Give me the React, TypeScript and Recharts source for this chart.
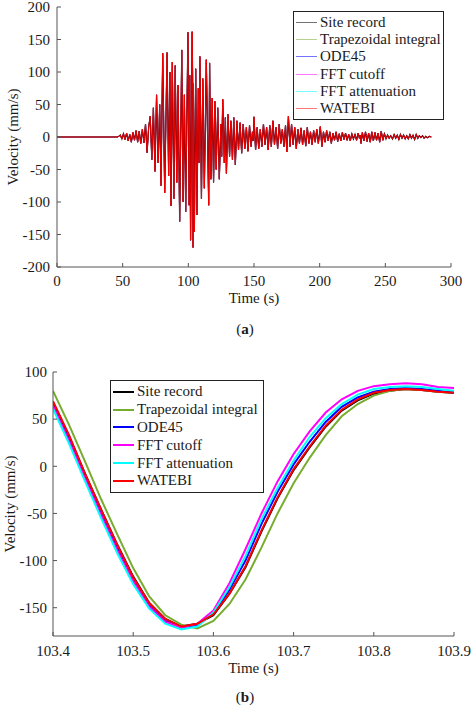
import { LineChart, Line, XAxis, YAxis, Legend, Label } from "recharts";

const FONT = "Liberation Serif";
const AXIS_COLOR = "#555";
const TEXT_COLOR = "#1a1a1a";

// legend entries, in drawing order (last one ends up on top)
const seriesNames = [
  "Site record",
  "Trapezoidal integral",
  "ODE45",
  "FFT cutoff",
  "FFT attenuation",
  "WATEBI",
];
const seriesColors = ["#000000", "#77AC30", "#0000FF", "#FF00FF", "#00FFFF", "#FF0000"];

// (a) full record: [time s, velocity mm/s] at the wave peaks/troughs
const siteRecordFull: [number, number][] = [
  [0, 0], [46, 0], [47, 1], [48.2, 3], [49.4, -3], [50.6, 5], [51.8, -4], [53, 6],
  [54.2, -6], [55.4, 4], [56.6, -8], [57.8, 7], [59, -5], [60.2, 10], [61.4, -8],
  [62.6, 9], [63.8, -10], [65, 12], [66.2, -9], [67.4, 20], [68.6, -24], [69.8, 15],
  [71, 32], [72.2, -35], [73.4, 45], [74.6, -53], [75.8, 65], [77, -40], [78.2, 50],
  [79.2, -75], [80.5, 129], [82, -86], [83.8, 130], [85, -60], [86, 100], [86.8, -106],
  [87.8, 115], [89, -95], [90, 110], [91.2, -70], [92.2, 80], [93.4, -130], [95, 134],
  [96, -100], [97, 65], [98, -115], [99.7, 161], [100.6, -105], [101.1, 95], [101.7, -159],
  [102.9, 162], [103.4, 68], [103.56, -170], [103.84, 82], [104.6, -146], [105.6, 105],
  [106.6, -120], [107.6, 75], [108.2, -40], [108.8, 124], [110, -95], [111, 90],
  [112.2, -79], [113.7, 119], [115.5, -105], [116.2, 114], [117.2, -65], [118.2, 60],
  [119.2, -70], [120.2, 55], [121.2, -50], [122.4, 45], [123.6, -65], [124.8, 20],
  [125.4, -30], [126.2, 58], [127.4, -40], [128.2, 30], [129, -56], [130.2, 35],
  [131.4, -30], [132.4, 25], [133.6, -35], [134.6, 30], [135.8, -43], [137, 25],
  [138.2, -20], [139.4, 22], [140.6, -25], [141.8, 20], [143, -18], [144.2, 15],
  [145.4, -22], [146.6, 18], [147.8, -15], [148.8, 8], [149.4, -6], [150, 31],
  [151.2, -20], [152.4, 15], [153.6, -18], [154.8, 12], [156, -15], [157.2, 20],
  [158.4, -12], [159.6, 15], [160.8, -20], [162, 18], [163.2, -15], [164.4, 25],
  [165.6, -12], [166.8, 15], [168, -18], [169.2, 20], [170.4, -10], [171.6, 12],
  [172.8, -15], [174, 18], [175, -23], [176.2, 32], [177.4, -15], [178.6, 20],
  [179.8, -12], [181, 15], [182.2, -18], [183.4, 12], [184.6, -10], [185.8, 14],
  [187, -12], [188.2, 10], [189.4, -14], [190.6, 15], [191.8, -10], [193, 8],
  [194.2, -12], [195.4, 10], [196.6, -8], [197.8, 12], [199, -10], [200.5, 16],
  [201.7, -15], [202.9, 8], [204.1, -8], [205.3, 10], [206.5, -6], [207.7, 8],
  [208.9, -10], [210.1, 6], [211.3, -5], [212.5, 8], [213.7, -7], [214.9, 5],
  [216.1, -6], [217.3, 7], [218.5, -4], [219.7, 6], [220.9, -5], [222.1, 4],
  [223.3, -6], [224.5, 5], [225.7, -3], [226.9, 4], [228.1, -5], [229.3, 6],
  [230.3, -2], [230.9, 3], [231.5, -10], [232.5, 7], [233.7, -6], [234.9, 8],
  [236.1, -7], [237.3, 6], [238.5, -8], [239.7, 8], [240.9, -6], [242.1, 7],
  [243.3, -5], [244.5, 6], [245.7, -8], [246.9, 9], [248.1, -5], [249.3, 5],
  [250.5, -3], [251.7, 3], [252.9, -2], [254.1, 2], [255.5, -3], [256.7, 4],
  [257.9, -2], [259.1, 3], [260.3, -4], [261.5, 4], [262.7, -2], [263.9, 3],
  [265.1, -3], [266.3, 2], [267.5, -3], [268.7, 4], [269.9, -2], [271.1, 3],
  [272.3, -4], [273.5, 4], [274.7, -2], [275.9, 2], [277.1, -1], [278.3, 2],
  [279.5, -2], [280.7, 1], [282, -1], [283.5, 1], [285, 0],
];

// (b) close-up 103.4 - 103.9 s, step 0.02 s
const zoomTime = [
  103.4, 103.42, 103.44, 103.46, 103.48, 103.5, 103.52, 103.54, 103.56, 103.58,
  103.6, 103.62, 103.64, 103.66, 103.68, 103.7, 103.72, 103.74, 103.76, 103.78,
  103.8, 103.82, 103.84, 103.86, 103.88, 103.9,
];
const siteRecord = [
  68, 32, -8, -46, -83, -117, -145, -162, -170, -167,
  -158, -135, -107, -69, -34, -4, 20, 42, 59, 70,
  77, 80, 82, 81, 79, 78,
];
const trapezoidal = [
  80, 44, 5, -35, -72, -108, -138, -158, -168, -172,
  -164, -146, -120, -86, -50, -18, 9, 33, 53, 66,
  75, 80, 82, 81, 79, 78,
];
const ode45 = [
  64, 28, -12, -51, -87, -121, -148, -164, -171, -168,
  -156, -131, -100, -61, -27, 2, 26, 47, 63, 73,
  79, 82, 83, 82, 80, 78,
];
const fftCutoff = [
  64, 27, -13, -52, -89, -122, -149, -165, -171, -167,
  -153, -124, -88, -50, -16, 13, 37, 57, 71, 80,
  85, 87, 88, 87, 84, 83,
];
const fftAttenuation = [
  61, 24, -16, -55, -92, -125, -151, -167, -173, -170,
  -155, -128, -95, -56, -23, 6, 31, 51, 66, 76,
  82, 84, 85, 84, 82, 80,
];
const watebi = [
  69, 33, -8, -46, -83, -118, -145, -162, -170, -167,
  -157, -135, -106, -68, -33, -3, 21, 43, 60, 71,
  78, 81, 82, 81, 79, 78,
];

const fullTicks = [0, 50, 100, 150, 200, 250, 300];
const fullVelTicks = [-200, -150, -100, -50, 0, 50, 100, 150, 200];
const zoomTicks = [103.4, 103.5, 103.6, 103.7, 103.8, 103.9];
const zoomVelTicks = [-150, -100, -50, 0, 50, 100];

const seriesKeys = ["site", "trap", "ode45", "fftCut", "fftAtt", "watebi"];

const fullData = siteRecordFull.map(([t, v]) => ({ t, v }));
const zoomData = zoomTime.map((t, i) => ({
  t,
  site: siteRecord[i],
  trap: trapezoidal[i],
  ode45: ode45[i],
  fftCut: fftCutoff[i],
  fftAtt: fftAttenuation[i],
  watebi: watebi[i],
}));

const textStyle = { fontFamily: FONT, fontSize: "15px", fill: TEXT_COLOR };

// svg text with the serif face set both as attribute and as style
function SerifText(props: any) {
  const { children, ...rest } = props;
  return (
    <text fontFamily={FONT} fontSize={15} fill={TEXT_COLOR} style={textStyle} {...rest}>
      {children}
    </text>
  );
}

// MATLAB-like inward ticks; labels drawn by hand so the tick can point inside
const bottomTick = (gap: number, fmt: (v: number) => string) => (p: any) => (
  <g>
    <line x1={p.x} x2={p.x} y1={p.y - gap} y2={p.y - gap - 4} stroke={AXIS_COLOR} />
    <SerifText x={p.x} y={p.y} dy="0.71em" textAnchor="middle">
      {fmt(p.payload.value)}
    </SerifText>
  </g>
);
const leftTick = (gap: number) => (p: any) => (
  <g>
    <line x1={p.x + gap} x2={p.x + gap + 4} y1={p.y} y2={p.y} stroke={AXIS_COLOR} />
    <SerifText x={p.x} y={p.y} dy="0.35em" textAnchor="end">
      {p.payload.value}
    </SerifText>
  </g>
);
const topTick = (p: any) => (
  <line x1={p.x} x2={p.x} y1={p.y} y2={p.y + 4} stroke={AXIS_COLOR} />
);
const rightTick = (p: any) => (
  <line x1={p.x} x2={p.x - 4} y1={p.y} y2={p.y} stroke={AXIS_COLOR} />
);

// axis titles: horizontal under the x axis, rotated beside the y axis
const xTitle = (dy: number) => (p: any) => {
  const vb = p.viewBox;
  return (
    <SerifText x={vb.x + vb.width / 2} y={vb.y + dy} textAnchor="middle">
      Time (s)
    </SerifText>
  );
};
const yTitle = (x: number) => (p: any) => {
  const vb = p.viewBox;
  const cy = vb.y + vb.height / 2;
  return (
    <SerifText x={x} y={cy} dy="0.35em" textAnchor="middle" transform={`rotate(-90 ${x} ${cy})`}>
      Velocity (mm/s)
    </SerifText>
  );
};

function LegendBox({
  width,
  rowHeight,
  lineWidth,
  lineOpacity,
}: {
  width: number;
  rowHeight: number;
  lineWidth: number;
  lineOpacity: number;
}) {
  return (
    <div
      style={{
        width,
        boxSizing: "border-box",
        border: "1.2px solid #222",
        background: "#fff",
        padding: "2px 0 2px 0",
        fontFamily: FONT,
        fontSize: 15,
        color: TEXT_COLOR,
      }}
    >
      {seriesNames.map((name, i) => (
        <div key={name} style={{ display: "flex", alignItems: "center", height: rowHeight }}>
          <div
            style={{
              width: 21,
              height: lineWidth,
              marginLeft: 2,
              marginRight: 3,
              background: seriesColors[i],
              opacity: lineOpacity,
            }}
          />
          <span style={{ whiteSpace: "nowrap", lineHeight: 1 }}>{name}</span>
        </div>
      ))}
    </div>
  );
}

function PanelTag({ letter, top }: { letter: string; top: number }) {
  return (
    <div
      style={{
        position: "absolute",
        top,
        left: 0,
        width: 474,
        textAlign: "center",
        fontFamily: FONT,
        fontSize: 15,
        color: TEXT_COLOR,
        paddingLeft: 16,
        boxSizing: "border-box",
      }}
    >
      (<b>{letter}</b>)
    </div>
  );
}

export default function App() {
  // full record: thin lines, WATEBI drawn last so it covers the others
  const fullOrder = [1, 2, 3, 4, 0, 5];
  return (
    <div
      style={{
        position: "absolute",
        left: 0,
        top: 0,
        width: 474,
        height: 707,
        background: "#fff",
        overflow: "hidden",
        fontFamily: FONT,
      }}
    >
      <div style={{ position: "absolute", left: 0, top: 0 }}>
        <LineChart
          width={474}
          height={310}
          data={fullData}
          margin={{ top: 7, right: 23, bottom: 0, left: 0 }}
          style={{ fontFamily: FONT }}
        >
          <XAxis
            dataKey="t"
            type="number"
            domain={[0, 300]}
            ticks={fullTicks}
            interval={0}
            height={43}
            tickSize={0}
            tickMargin={8}
            tickLine={false}
            tick={bottomTick(8, (v) => String(v))}
            axisLine={{ stroke: AXIS_COLOR }}
            allowDataOverflow
          >
            <Label content={xTitle(36)} />
          </XAxis>
          <XAxis
            xAxisId="top"
            orientation="top"
            dataKey="t"
            type="number"
            domain={[0, 300]}
            ticks={fullTicks}
            interval={0}
            height={0}
            tickSize={0}
            tickMargin={0}
            tickLine={false}
            tick={topTick}
            axisLine={{ stroke: AXIS_COLOR }}
          />
          <YAxis
            type="number"
            domain={[-200, 200]}
            ticks={fullVelTicks}
            interval={0}
            width={57}
            tickSize={0}
            tickMargin={7}
            tickLine={false}
            tick={leftTick(7)}
            axisLine={{ stroke: AXIS_COLOR }}
            allowDataOverflow
          >
            <Label content={yTitle(13)} />
          </YAxis>
          <YAxis
            yAxisId="right"
            orientation="right"
            type="number"
            domain={[-200, 200]}
            ticks={fullVelTicks}
            interval={0}
            width={0}
            tickSize={0}
            tickMargin={0}
            tickLine={false}
            tick={rightTick}
            axisLine={{ stroke: AXIS_COLOR }}
          />
          {fullOrder.map((i) => (
            <Line
              key={seriesKeys[i]}
              dataKey="v"
              name={seriesNames[i]}
              stroke={i === 0 ? "#3a0000" : seriesColors[i]}
              strokeWidth={i === 0 ? 1.2 : i === 5 ? 0.9 : 0.5}
              dot={false}
              isAnimationActive={false}
            />
          ))}
          <Legend
            layout="vertical"
            align="center"
            verticalAlign="middle"
            wrapperStyle={{ left: 293, top: 11, width: 151 }}
            content={() => <LegendBox width={151} rowHeight={17.2} lineWidth={1} lineOpacity={0.55} />}
          />
        </LineChart>
      </div>

      <PanelTag letter="a" top={321} />

      <div style={{ position: "absolute", left: 0, top: 340 }}>
        <LineChart
          width={474}
          height={340}
          data={zoomData}
          margin={{ top: 32, right: 20, bottom: 0, left: 0 }}
          style={{ fontFamily: FONT }}
        >
          <XAxis
            dataKey="t"
            type="number"
            domain={[103.4, 103.9]}
            ticks={zoomTicks}
            interval={0}
            height={44}
            tickSize={0}
            tickMargin={9}
            tickLine={false}
            tick={bottomTick(9, (v) => v.toFixed(1))}
            axisLine={{ stroke: AXIS_COLOR }}
            allowDataOverflow
          >
            <Label content={xTitle(37)} />
          </XAxis>
          <XAxis
            xAxisId="top"
            orientation="top"
            dataKey="t"
            type="number"
            domain={[103.4, 103.9]}
            ticks={zoomTicks}
            interval={0}
            height={0}
            tickSize={0}
            tickMargin={0}
            tickLine={false}
            tick={topTick}
            axisLine={{ stroke: AXIS_COLOR }}
          />
          <YAxis
            type="number"
            domain={[-180, 100]}
            ticks={zoomVelTicks}
            interval={0}
            width={53}
            tickSize={0}
            tickMargin={6}
            tickLine={false}
            tick={leftTick(6)}
            axisLine={{ stroke: AXIS_COLOR }}
            allowDataOverflow
          >
            <Label content={yTitle(10)} />
          </YAxis>
          <YAxis
            yAxisId="right"
            orientation="right"
            type="number"
            domain={[-180, 100]}
            ticks={zoomVelTicks}
            interval={0}
            width={0}
            tickSize={0}
            tickMargin={0}
            tickLine={false}
            tick={rightTick}
            axisLine={{ stroke: AXIS_COLOR }}
          />
          {seriesKeys.map((k, i) => (
            <Line
              key={k}
              dataKey={k}
              name={seriesNames[i]}
              stroke={seriesColors[i]}
              strokeWidth={2}
              dot={false}
              isAnimationActive={false}
            />
          ))}
          <Legend
            layout="vertical"
            align="center"
            verticalAlign="middle"
            wrapperStyle={{ left: 110, top: 40, width: 154 }}
            content={() => <LegendBox width={154} rowHeight={17.8} lineWidth={2} lineOpacity={1} />}
          />
        </LineChart>
      </div>

      <PanelTag letter="b" top={689} />
    </div>
  );
}
